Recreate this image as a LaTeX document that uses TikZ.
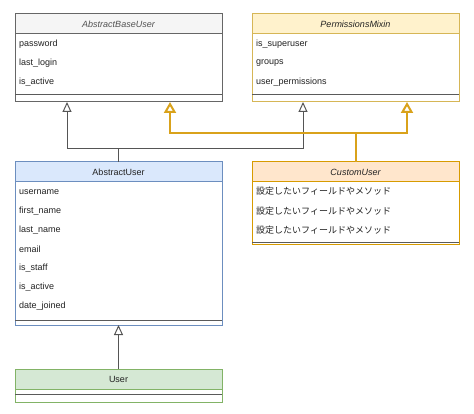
\documentclass[tikz,border=0pt]{standalone}
\usepackage{fontspec}
\setmainfont{Liberation Sans}
\newfontfamily\jpfont{Noto Sans CJK JP}
\usetikzlibrary{arrows.meta}
\definecolor{abuf}{HTML}{F5F5F5}\definecolor{abus}{HTML}{666666}
\definecolor{pmf}{HTML}{FFF2CC}\definecolor{pms}{HTML}{D6B656}
\definecolor{auf}{HTML}{DAE8FC}\definecolor{aus}{HTML}{6C8EBF}
\definecolor{cuf}{HTML}{FFE6CC}\definecolor{cus}{HTML}{D79B00}
\definecolor{uf}{HTML}{D5E8D4}\definecolor{us}{HTML}{82B366}
\definecolor{sepc}{HTML}{5A5A5A}
\definecolor{grayarr}{HTML}{555555}
\definecolor{goldarr}{HTML}{D9A21B}
\definecolor{txt}{HTML}{222222}
\tikzset{
  classbox/.style={draw=#1, fill=white, line width=1pt, minimum width=207pt, anchor=north west, inner sep=0pt, outer sep=0pt},
  hdr/.style 2 args={draw=#1, fill=#2, line width=1pt, minimum width=207pt, minimum height=20pt, anchor=north west, inner sep=0pt, outer sep=0pt, font=\fontsize{9}{11}\selectfont, text=txt},
  fld/.style={anchor=west, inner sep=0pt, font=\fontsize{9}{11}\selectfont, text=txt},
  sepline/.style={draw=sepc, line width=1pt},
  inh/.style={draw=grayarr, line width=1pt, -{Triangle[open, length=10pt, width=9pt]}},
  ginh/.style={draw=goldarr, line width=2pt, -{Triangle[open, length=11pt, width=12pt]}},
}
\begin{document}
\begin{tikzpicture}[x=1pt,y=-1pt]
\useasboundingbox (0,0) rectangle (474,414);
% AbstractBaseUser
\node[classbox=abus, minimum height=88pt] (abu) at (15,14) {};
\node[hdr={abus}{abuf}, text=abus!80!black] (abuh) at (15,14) {\itshape AbstractBaseUser};
\node[fld] (abu1) at (19,44.5) {password};
\node[fld] (abu2) at (19,63.5) {last\_login};
\node[fld] (abu3) at (19,82.5) {is\_active};
\draw[sepline] ([yshift=7pt]abu.south west) -- ([yshift=7pt]abu.south east);
% PermissionsMixin
\node[classbox=pms, minimum height=88pt] (pm) at (252,14) {};
\node[hdr={pms}{pmf}] (pmh) at (252,14) {\itshape PermissionsMixin};
\node[fld] (pm1) at (256,44.5) {is\_superuser};
\node[fld] (pm2) at (256,63.5) {groups};
\node[fld] (pm3) at (256,82.5) {user\_permissions};
\draw[sepline] ([yshift=7pt]pm.south west) -- ([yshift=7pt]pm.south east);
% AbstractUser
\node[classbox=aus, minimum height=163pt] (au) at (15,162) {};
\node[hdr={aus}{auf}] (auh) at (15,162) {AbstractUser};
\node[fld] (au1) at (19,192.5) {username};
\node[fld] (au2) at (19,211.5) {first\_name};
\node[fld] (au3) at (19,230.5) {last\_name};
\node[fld] (au4) at (19,249.5) {email};
\node[fld] (au5) at (19,268.5) {is\_staff};
\node[fld] (au6) at (19,287.5) {is\_active};
\node[fld] (au7) at (19,306.5) {date\_joined};
\draw[sepline] ([yshift=5pt]au.south west) -- ([yshift=5pt]au.south east);
% CustomUser
\node[classbox=cus, minimum height=83pt] (cu) at (252,162) {};
\node[hdr={cus}{cuf}] (cuh) at (252,162) {\itshape CustomUser};
\node[fld] (cu1) at (256,191.5) {\jpfont 設定したいフィールドやメソッド};
\node[fld] (cu2) at (256,211) {\jpfont 設定したいフィールドやメソッド};
\node[fld] (cu3) at (256,230.5) {\jpfont 設定したいフィールドやメソッド};
\draw[sepline] ([yshift=2.5pt]cu.south west) -- ([yshift=2.5pt]cu.south east);
% User
\node[classbox=us, minimum height=33pt] (u) at (15,369) {};
\node[hdr={us}{uf}] (uh) at (15,369) {User};
\draw[sepline] ([yshift=8pt]u.south west) -- ([yshift=8pt]u.south east);
% connector points
\coordinate (abuin) at ([xshift=52pt]abu.south west);
\coordinate (abuig) at ([xshift=155pt]abu.south west);
\coordinate (pmin) at ([xshift=51pt]pm.south west);
\coordinate (pmig) at ([xshift=155pt]pm.south west);
\coordinate (gj) at ([yshift=13pt]au.north);
\coordinate (oj) at ([yshift=29pt]cu.north);
% connectors
\draw[inh] (au.north) -- (gj) -| (abuin);
\draw[inh] (gj) -| (pmin);
\draw[ginh] (cu.north) -- (oj) -| (abuig);
\draw[ginh] (oj) -| (pmig);
\draw[inh] (u.north) -- (au.south);
\end{tikzpicture}
\end{document}
